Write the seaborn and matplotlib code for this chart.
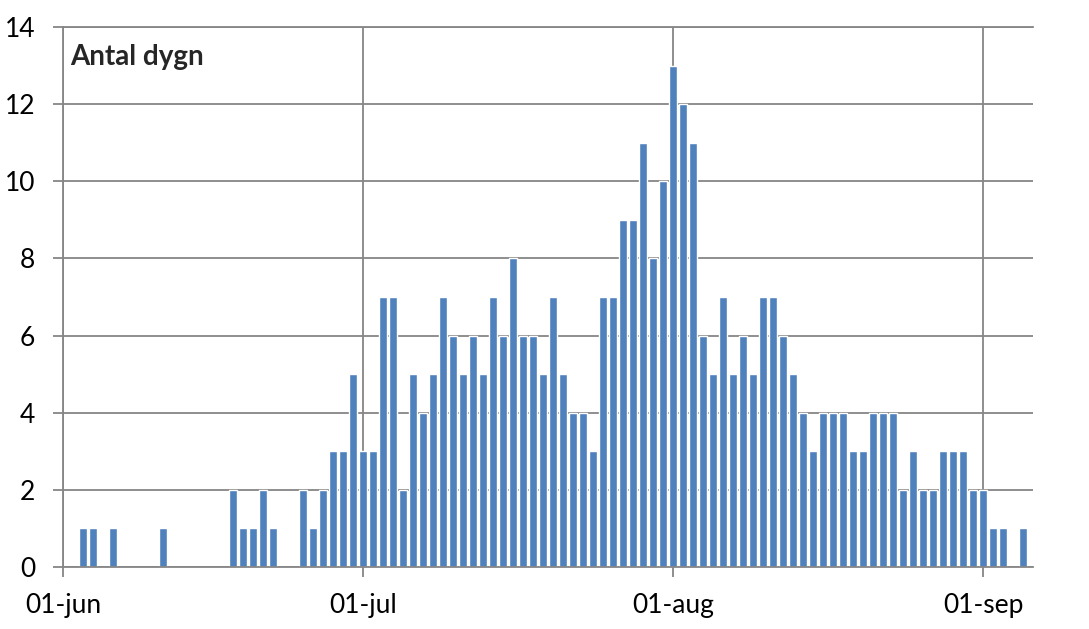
import matplotlib
matplotlib.use("Agg")
import matplotlib.pyplot as plt
import pandas as pd
import seaborn as sns

# Data: number of days per calendar date (1 June - 5 September)
dates = pd.date_range("2000-06-01", "2000-09-05", freq="D")
counts = [
    0, 0, 1, 1, 0, 1, 0, 0, 0, 0,   # 1-10 jun
    1, 0, 0, 0, 0, 0, 0, 2, 1, 1,   # 11-20 jun
    2, 1, 0, 0, 2, 1, 2, 3, 3, 5,   # 21-30 jun
    3, 3, 7, 7, 2, 5, 4, 5, 7, 6,   # 1-10 jul
    5, 6, 5, 7, 6, 8, 6, 6, 5, 7,   # 11-20 jul
    5, 4, 4, 3, 7, 7, 9, 9, 11, 8,  # 21-30 jul
    10,                             # 31 jul
    13, 12, 11, 6, 5, 7, 5, 6, 5, 7,  # 1-10 aug
    7, 6, 5, 4, 3, 4, 4, 4, 3, 3,     # 11-20 aug
    4, 4, 4, 2, 3, 2, 2, 3, 3, 3,     # 21-30 aug
    2,                                # 31 aug
    2, 1, 1, 0, 1,                    # 1-5 sep
]
tick_dates = ["2000-06-01", "2000-07-01", "2000-08-01", "2000-09-01"]
tick_labels = ["01-jun", "01-jul", "01-aug", "01-sep"]
y_ticks = [0, 2, 4, 6, 8, 10, 12, 14]

start = dates[0]
df = pd.DataFrame({"day": (dates - start).days, "count": counts})
df = df[df["count"] > 0]
tick_pos = [(pd.Timestamp(d) - start).days for d in tick_dates]

sns.set_style("white")
plt.rcParams["font.family"] = ["Lato", "DejaVu Sans"]

grey = "#868686"
fig = plt.figure(figsize=(10.89, 6.29), dpi=100)
ax = fig.add_axes([0.0579, 0.0986, 0.8907, 0.8585])

sns.barplot(data=df, x="day", y="count", native_scale=True, color="#4F81BD",
            saturation=1, edgecolor="white", linewidth=1.0, errorbar=None,
            ax=ax, zorder=2)

ax.set_xlim(0, 97)
ax.set_ylim(0, 14)
ax.set_yticks(y_ticks)
ax.set_xticks(tick_pos)
ax.set_xticklabels(tick_labels)
ax.set_xlabel("")
ax.set_ylabel("")

ax.grid(True, color=grey, linewidth=1.3, zorder=0)
ax.set_axisbelow(True)
for side in ["left", "bottom", "top"]:
    ax.spines[side].set_visible(True)
    ax.spines[side].set_color(grey)
    ax.spines[side].set_linewidth(1.3)
ax.spines["right"].set_visible(False)

ax.tick_params(axis="y", length=7, width=1.3, color=grey, pad=13,
               labelsize=19, labelcolor="black", left=True)
ax.tick_params(axis="x", length=7, width=1.3, color=grey, pad=12,
               labelsize=19, labelcolor="black", bottom=True)

ax.text(0.007, 0.968, "Antal dygn", transform=ax.transAxes, ha="left",
        va="top", fontsize=20, fontweight="bold")

fig.savefig("out.png", dpi=100)
